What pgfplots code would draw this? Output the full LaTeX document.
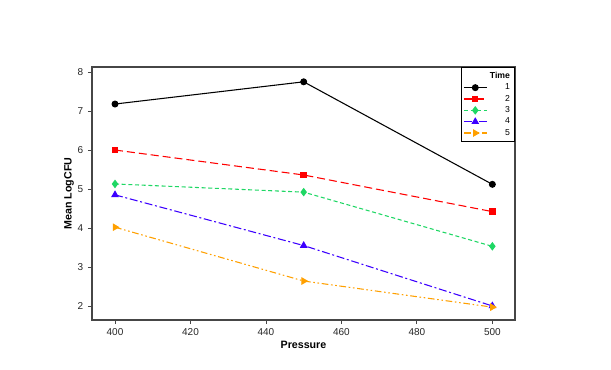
\documentclass[border=0pt]{standalone}
\usepackage{fontspec}
\setmainfont{Liberation Sans}
\usepackage{pgfplots}
\pgfplotsset{compat=1.18}
\definecolor{sred}{RGB}{255,0,0}
\definecolor{sgreen}{RGB}{30,215,100}
\definecolor{sblue}{RGB}{60,0,255}
\definecolor{sorange}{RGB}{255,160,0}
\definecolor{axgray}{RGB}{70,70,70}
\begin{document}
\begin{tikzpicture}[x=0.75pt,y=0.75pt]
\path[use as bounding box] (-92,-49) rectangle (519,320);
\begin{axis}[
  at={(0,0)}, anchor=south west,
  scale only axis, width=317.25pt, height=189.75pt,
  xmin=393.9, xmax=506, ymin=1.64, ymax=8.13,
  xtick={400,420,...,500}, ytick={2,...,8},
  axis line style={axgray, line width=0.8pt},
  tick style={axgray, line width=0.6pt},
  tick align=outside, tick pos=left,
  major tick length=3pt,
  ticklabel style={font=\fontsize{7.5}{8}\selectfont, text=black!85},
  /pgf/number format/assume math mode=true,
  /pgf/number format/set thousands separator={},
  xlabel={\textbf{Pressure}}, ylabel={\textbf{Mean LogCFU}},
  label style={font=\fontsize{8}{9}\selectfont},
  xlabel style={yshift=3pt},
  ylabel style={yshift=-4pt},
  legend style={at={(1,1)}, anchor=north east, draw=black, line width=0.6pt,
    font=\fontsize{6.5}{7}\selectfont, row sep=-1.5pt, inner sep=1.5pt},
  legend cell align=right,
  legend image post style={line width=0.8pt},
  every axis plot/.append style={line width=0.8pt, mark size=2.2pt},
]
\addlegendimage{empty legend}
\addlegendentry{\textbf{Time}}
\addplot[black, solid, mark=*, mark options={solid}] coordinates {(400,7.18) (450,7.75) (500,5.12)};
\addlegendentry{1}
\addplot[sred, dash pattern=on 6pt off 3pt, mark=square*, mark size=2pt, mark options={solid}] coordinates {(400,6.00) (450,5.36) (500,4.42)};
\addlegendentry{2}
\addplot[sgreen, dash pattern=on 3pt off 2pt, mark=diamond*, mark size=2.6pt, mark options={solid}] coordinates {(400,5.13) (450,4.92) (500,3.53)};
\addlegendentry{3}
\addplot[sblue, dash pattern=on 6pt off 2pt on 1.5pt off 2pt, mark=triangle*, mark size=2.6pt, mark options={solid}] coordinates {(400,4.85) (450,3.55) (500,2.00)};
\addlegendentry{4}
\addplot[sorange, dash pattern=on 5pt off 2pt on 1.2pt off 2pt on 1.2pt off 2pt, mark=triangle*, mark size=2.6pt, mark options={solid, rotate=-90}] coordinates {(400,4.02) (450,2.64) (500,1.97)};
\addlegendentry{5}
\end{axis}
\end{tikzpicture}
\end{document}
